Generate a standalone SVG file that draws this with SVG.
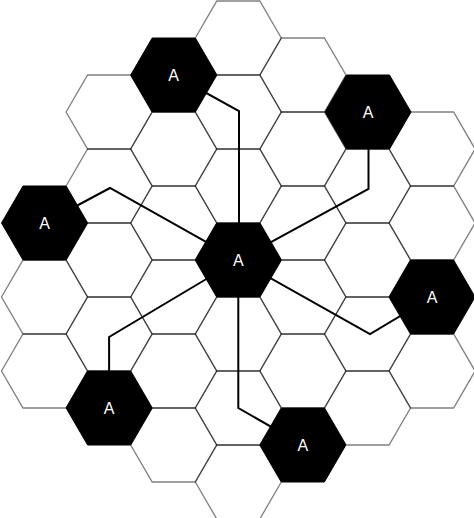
<svg xmlns="http://www.w3.org/2000/svg" xmlns:xlink="http://www.w3.org/1999/xlink" width="474" height="518" viewBox="0 0 474 518">
<style>
.cell{fill:none;stroke:#000;stroke-opacity:0.5;stroke-width:1.3}
.node{fill:#000;stroke:#000;stroke-width:1}
.lbl{fill:#fff;font-family:"Liberation Sans",Arial,sans-serif;font-size:16px;text-anchor:middle}
.conn{fill:none;stroke:#000;stroke-width:2;stroke-linejoin:miter}
</style>
<defs>
<polygon id="hex" points="-43,0 -21.5,-37 21.5,-37 43,0 21.5,37 -21.5,37"/>
</defs>
<rect width="474" height="518" fill="#fff"/>
<g id="grid">
<use xlink:href="#hex" href="#hex" class="cell" x="44.5" y="297"/>
<use xlink:href="#hex" href="#hex" class="cell" x="44.5" y="371"/>
<use xlink:href="#hex" href="#hex" class="cell" x="109.1" y="112"/>
<use xlink:href="#hex" href="#hex" class="cell" x="109.1" y="186"/>
<use xlink:href="#hex" href="#hex" class="cell" x="109.1" y="260"/>
<use xlink:href="#hex" href="#hex" class="cell" x="109.1" y="334"/>
<use xlink:href="#hex" href="#hex" class="cell" x="173.7" y="149"/>
<use xlink:href="#hex" href="#hex" class="cell" x="173.7" y="223"/>
<use xlink:href="#hex" href="#hex" class="cell" x="173.7" y="297"/>
<use xlink:href="#hex" href="#hex" class="cell" x="173.7" y="371"/>
<use xlink:href="#hex" href="#hex" class="cell" x="173.7" y="445"/>
<use xlink:href="#hex" href="#hex" class="cell" x="238.3" y="38"/>
<use xlink:href="#hex" href="#hex" class="cell" x="238.3" y="112"/>
<use xlink:href="#hex" href="#hex" class="cell" x="238.3" y="186"/>
<use xlink:href="#hex" href="#hex" class="cell" x="238.3" y="334"/>
<use xlink:href="#hex" href="#hex" class="cell" x="238.3" y="408"/>
<use xlink:href="#hex" href="#hex" class="cell" x="238.3" y="482"/>
<use xlink:href="#hex" href="#hex" class="cell" x="302.9" y="75"/>
<use xlink:href="#hex" href="#hex" class="cell" x="302.9" y="149"/>
<use xlink:href="#hex" href="#hex" class="cell" x="302.9" y="223"/>
<use xlink:href="#hex" href="#hex" class="cell" x="302.9" y="297"/>
<use xlink:href="#hex" href="#hex" class="cell" x="302.9" y="371"/>
<use xlink:href="#hex" href="#hex" class="cell" x="367.5" y="186"/>
<use xlink:href="#hex" href="#hex" class="cell" x="367.5" y="260"/>
<use xlink:href="#hex" href="#hex" class="cell" x="367.5" y="334"/>
<use xlink:href="#hex" href="#hex" class="cell" x="367.5" y="408"/>
<use xlink:href="#hex" href="#hex" class="cell" x="432.1" y="149"/>
<use xlink:href="#hex" href="#hex" class="cell" x="432.1" y="223"/>
<use xlink:href="#hex" href="#hex" class="cell" x="432.1" y="371"/>
</g>
<g id="connectors">
<polyline class="conn" points="173.7,75 239,111 239,260"/>
<polyline class="conn" points="368.5,112 368.5,189 238.3,260"/>
<polyline class="conn" points="44.5,223 110,188 238.3,260"/>
<polyline class="conn" points="109.1,408 109.1,337 238.3,260"/>
<polyline class="conn" points="238.3,260 370,334 432.1,297"/>
<polyline class="conn" points="238.3,260 238.3,408 302.9,445"/>
</g>
<g id="node-center"><use xlink:href="#hex" href="#hex" class="node" x="238.3" y="260"/><text class="lbl" x="238.3" y="265.8">A</text></g>
<g id="node-topleft"><use xlink:href="#hex" href="#hex" class="node" x="173.7" y="75"/><text class="lbl" x="173.7" y="80.8">A</text></g>
<g id="node-topright"><use xlink:href="#hex" href="#hex" class="node" x="368" y="112"/><text class="lbl" x="368" y="117.8">A</text></g>
<g id="node-left"><use xlink:href="#hex" href="#hex" class="node" x="44.5" y="223"/><text class="lbl" x="44.5" y="228.8">A</text></g>
<g id="node-right"><use xlink:href="#hex" href="#hex" class="node" x="432.1" y="297"/><text class="lbl" x="432.1" y="302.8">A</text></g>
<g id="node-bottomleft"><use xlink:href="#hex" href="#hex" class="node" x="109.1" y="408"/><text class="lbl" x="109.1" y="413.8">A</text></g>
<g id="node-bottomright"><use xlink:href="#hex" href="#hex" class="node" x="302.9" y="445"/><text class="lbl" x="302.9" y="450.8">A</text></g>
</svg>
